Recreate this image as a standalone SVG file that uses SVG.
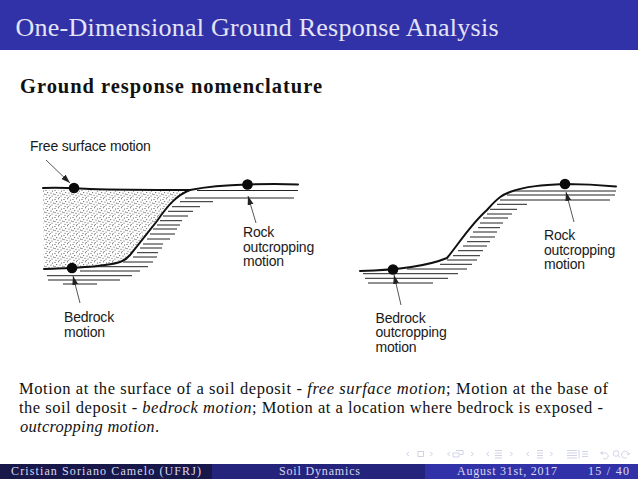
<svg xmlns="http://www.w3.org/2000/svg" width="638" height="479" viewBox="0 0 638 479">
<style>
.cm{font-family:"Liberation Serif",serif;fill:#111}
.lab{font-family:"Liberation Sans",Arial,sans-serif;font-size:14px;letter-spacing:-.2px;fill:#1a1a1a}
.ft{font-family:"Liberation Serif",serif;font-size:12px;fill:#d8d8ee}
.sf{fill:none;stroke:#111;stroke-width:2;stroke-linecap:round}
.h{fill:none;stroke:#222;stroke-width:1}
.ar{fill:none;stroke:#444;stroke-width:.9}
.nav{fill:none;stroke:#c8c8e2;stroke-width:.8}
.dot{fill:#0a0a0a}
</style>
<defs>
<pattern id="st" width="9" height="9" patternUnits="userSpaceOnUse">
<g fill="#444"><circle cx="1" cy="1.500" r=".6"/><circle cx="4.500" cy=".8" r=".55"/><circle cx="7.500" cy="2" r=".6"/><circle cx="2.700" cy="3.600" r=".55"/><circle cx="6" cy="4" r=".6"/><circle cx="8.500" cy="5" r=".5"/><circle cx="1" cy="5.600" r=".6"/><circle cx="4" cy="6.300" r=".55"/><circle cx="7" cy="7" r=".6"/><circle cx="2" cy="8.200" r=".55"/><circle cx="5.200" cy="8.500" r=".5"/></g>
</pattern>
<marker id="ah" markerUnits="userSpaceOnUse" markerWidth="10" markerHeight="7" refX="9" refY="3" orient="auto"><path d="M0 0L9 3L0 6z" fill="#222"/></marker>
</defs>
<rect width="638" height="479" fill="#fff"/>
<rect width="638" height="50" fill="#3232a8"/>
<text x="15.500" y="36" textLength="483" lengthAdjust="spacing" font-family="Liberation Serif" font-size="26" fill="#e4e4f6">One-Dimensional Ground Response Analysis</text>
<text class="cm" x="20" y="93" textLength="302" lengthAdjust="spacing" font-size="20.500" font-weight="bold">Ground response nomenclature</text>

<path d="M43 190L190 191L177 198L160 217L143 238L127 258L110 264L72 268L44 270z" fill="url(#st)"/>

<g id="hatch-left" class="h">
<path d="M197 190.500H298M185 198H294M180 201.700H213M172 206.700H200M168 211.300H193M163 216H188M160 220.700H182M157 225H180M153 229H177M150 234H175M147 239H170M143 244H163M140 248H162M137 252.700H158M133 257H157M123 262H153M93 266.700H148M80 271H140M47 275.700H132M48 280H120M63 284H97"/>
</g>
<g id="hatch-right" class="h">
<path d="M513 191H616M507 195H615M500 200H610M497 204.300H527M490 209.300H517M487 214H512M483 218H508M480 223H503M478 227.700H500M473 232H497M470 237H495M467 241.700H490M463 246H487M458 250.700H483M453 255.700H480M447 260H477M440 264.300H472M407 269H467M363 273.700H458M365 278.300H448M368 283H433"/>
</g>

<g id="connectors">
<path class="ar" d="M46 160L70 183" marker-end="url(#ah)"/>
<path class="ar" d="M256 223L248 196" marker-end="url(#ah)"/>
<path class="ar" d="M80 303L73 276" marker-end="url(#ah)"/>
<path class="ar" d="M401 305L394 275" marker-end="url(#ah)"/>
<path class="ar" d="M574 222L566 192" marker-end="url(#ah)"/>
</g>

<g id="ground-left"><path class="sf" d="M43 188C60 187 70 188 90 189C120 190 170 190 190 190C200 188 225 185 247 184.500C265 184 285 184 298 184.500"/>
<path class="sf" d="M44 269C70 268 85 268 105 265C120 263 125 261 130 255L157 221C168 205 177 195 190 190"/></g>
<g id="ground-right"><path class="sf" d="M360 271C400 270 430 265 447 258C458 245 470 225 487 210C500 195 505 194 510 192C525 186 545 185 565 184C585 184 600 185 616 186.500"/></g>

<g id="free-surface-motion"><circle class="dot" cx="74" cy="188" r="5.300"/><text class="lab" x="30" y="151">Free surface motion</text></g>
<g id="rock-outcropping-left"><circle class="dot" cx="247.500" cy="184.500" r="5.300"/><text class="lab" y="237"><tspan x="243">Rock</tspan><tspan x="243" dy="14.500">outcropping</tspan><tspan x="243" dy="14.500">motion</tspan></text></g>
<g id="bedrock-motion"><circle class="dot" cx="72" cy="268" r="5.300"/><text class="lab" y="322"><tspan x="64">Bedrock</tspan><tspan x="64" dy="14.500">motion</tspan></text></g>
<g id="bedrock-outcropping"><circle class="dot" cx="393" cy="269.500" r="5.300"/><text class="lab" y="322.700"><tspan x="375.500">Bedrock</tspan><tspan x="375.500" dy="14.500">outcropping</tspan><tspan x="375.500" dy="14.500">motion</tspan></text></g>
<g id="rock-outcropping-right"><circle class="dot" cx="565" cy="184" r="5.300"/><text class="lab" y="240"><tspan x="544">Rock</tspan><tspan x="544" dy="14.500">outcropping</tspan><tspan x="544" dy="14.500">motion</tspan></text></g>

<text class="cm" x="19" y="394" textLength="589" lengthAdjust="spacing" font-size="16.500">Motion at the surface of a soil deposit - <tspan font-style="italic">free surface motion</tspan>; Motion at the base of</text>
<text class="cm" x="19" y="413" textLength="584" lengthAdjust="spacing" font-size="16.500">the soil deposit - <tspan font-style="italic">bedrock motion</tspan>; Motion at a location where bedrock is exposed -</text>
<text class="cm" x="20" y="432" textLength="139" lengthAdjust="spacing" font-size="16.500"><tspan font-style="italic">outcropping motion</tspan>.</text>

<g id="nav" class="nav">
<path d="M409 452l-2.500 2 2.500 2M430 452l2.500 2-2.500 2"/>
<rect x="418" y="451.500" width="5.500" height="5"/>
<path d="M450 452l-2.500 2 2.500 2M471 452l2.500 2-2.500 2M453 453h6v4h-6zM456 450.500h7v4h-3"/>
<path d="M489 452l-2.500 2 2.500 2M510 452l2.500 2-2.500 2M495 450.500h7M495 453h7M495 455.500h7M495 458h7"/>
<path d="M529 452l-2.500 2 2.500 2M550 452l2.500 2-2.500 2M537 450.500h6M537 453h6M537 455.500h6M537 458h6"/>
<path d="M567 450.500h10M567 453h10M567 455.500h10M567 458h10M579 449.500v9M582 451.500h6M582 454h6M582 456.500h6"/>
<path d="M603 451.500l-2.500 1.500 2.500 1.500M601 453h4a3 3 0 1 1-2 5"/>
<circle cx="616" cy="453.500" r="2.800"/><path d="M618 455.500l2.500 2.500"/>
<path d="M630 453l-1.500 2-2-1.500M628.500 455a3.500 3.500 0 1 0-1.500 2.500"/>
</g>

<rect y="464" width="212" height="15" fill="#17174a"/>
<rect x="212" y="464" width="213" height="15" fill="#24247c"/>
<rect x="425" y="464" width="213" height="15" fill="#3232a8"/>
<text class="ft" x="11" y="475" textLength="190" lengthAdjust="spacing">Cristian Soriano Camelo  (UFRJ)</text>
<text class="ft" x="279" y="475" textLength="81" lengthAdjust="spacing">Soil Dynamics</text>
<text class="ft" x="457" y="475" textLength="100" lengthAdjust="spacing">August 31st, 2017</text>
<text class="ft" x="588" y="475" textLength="41" lengthAdjust="spacing">15 / 40</text>
</svg>
